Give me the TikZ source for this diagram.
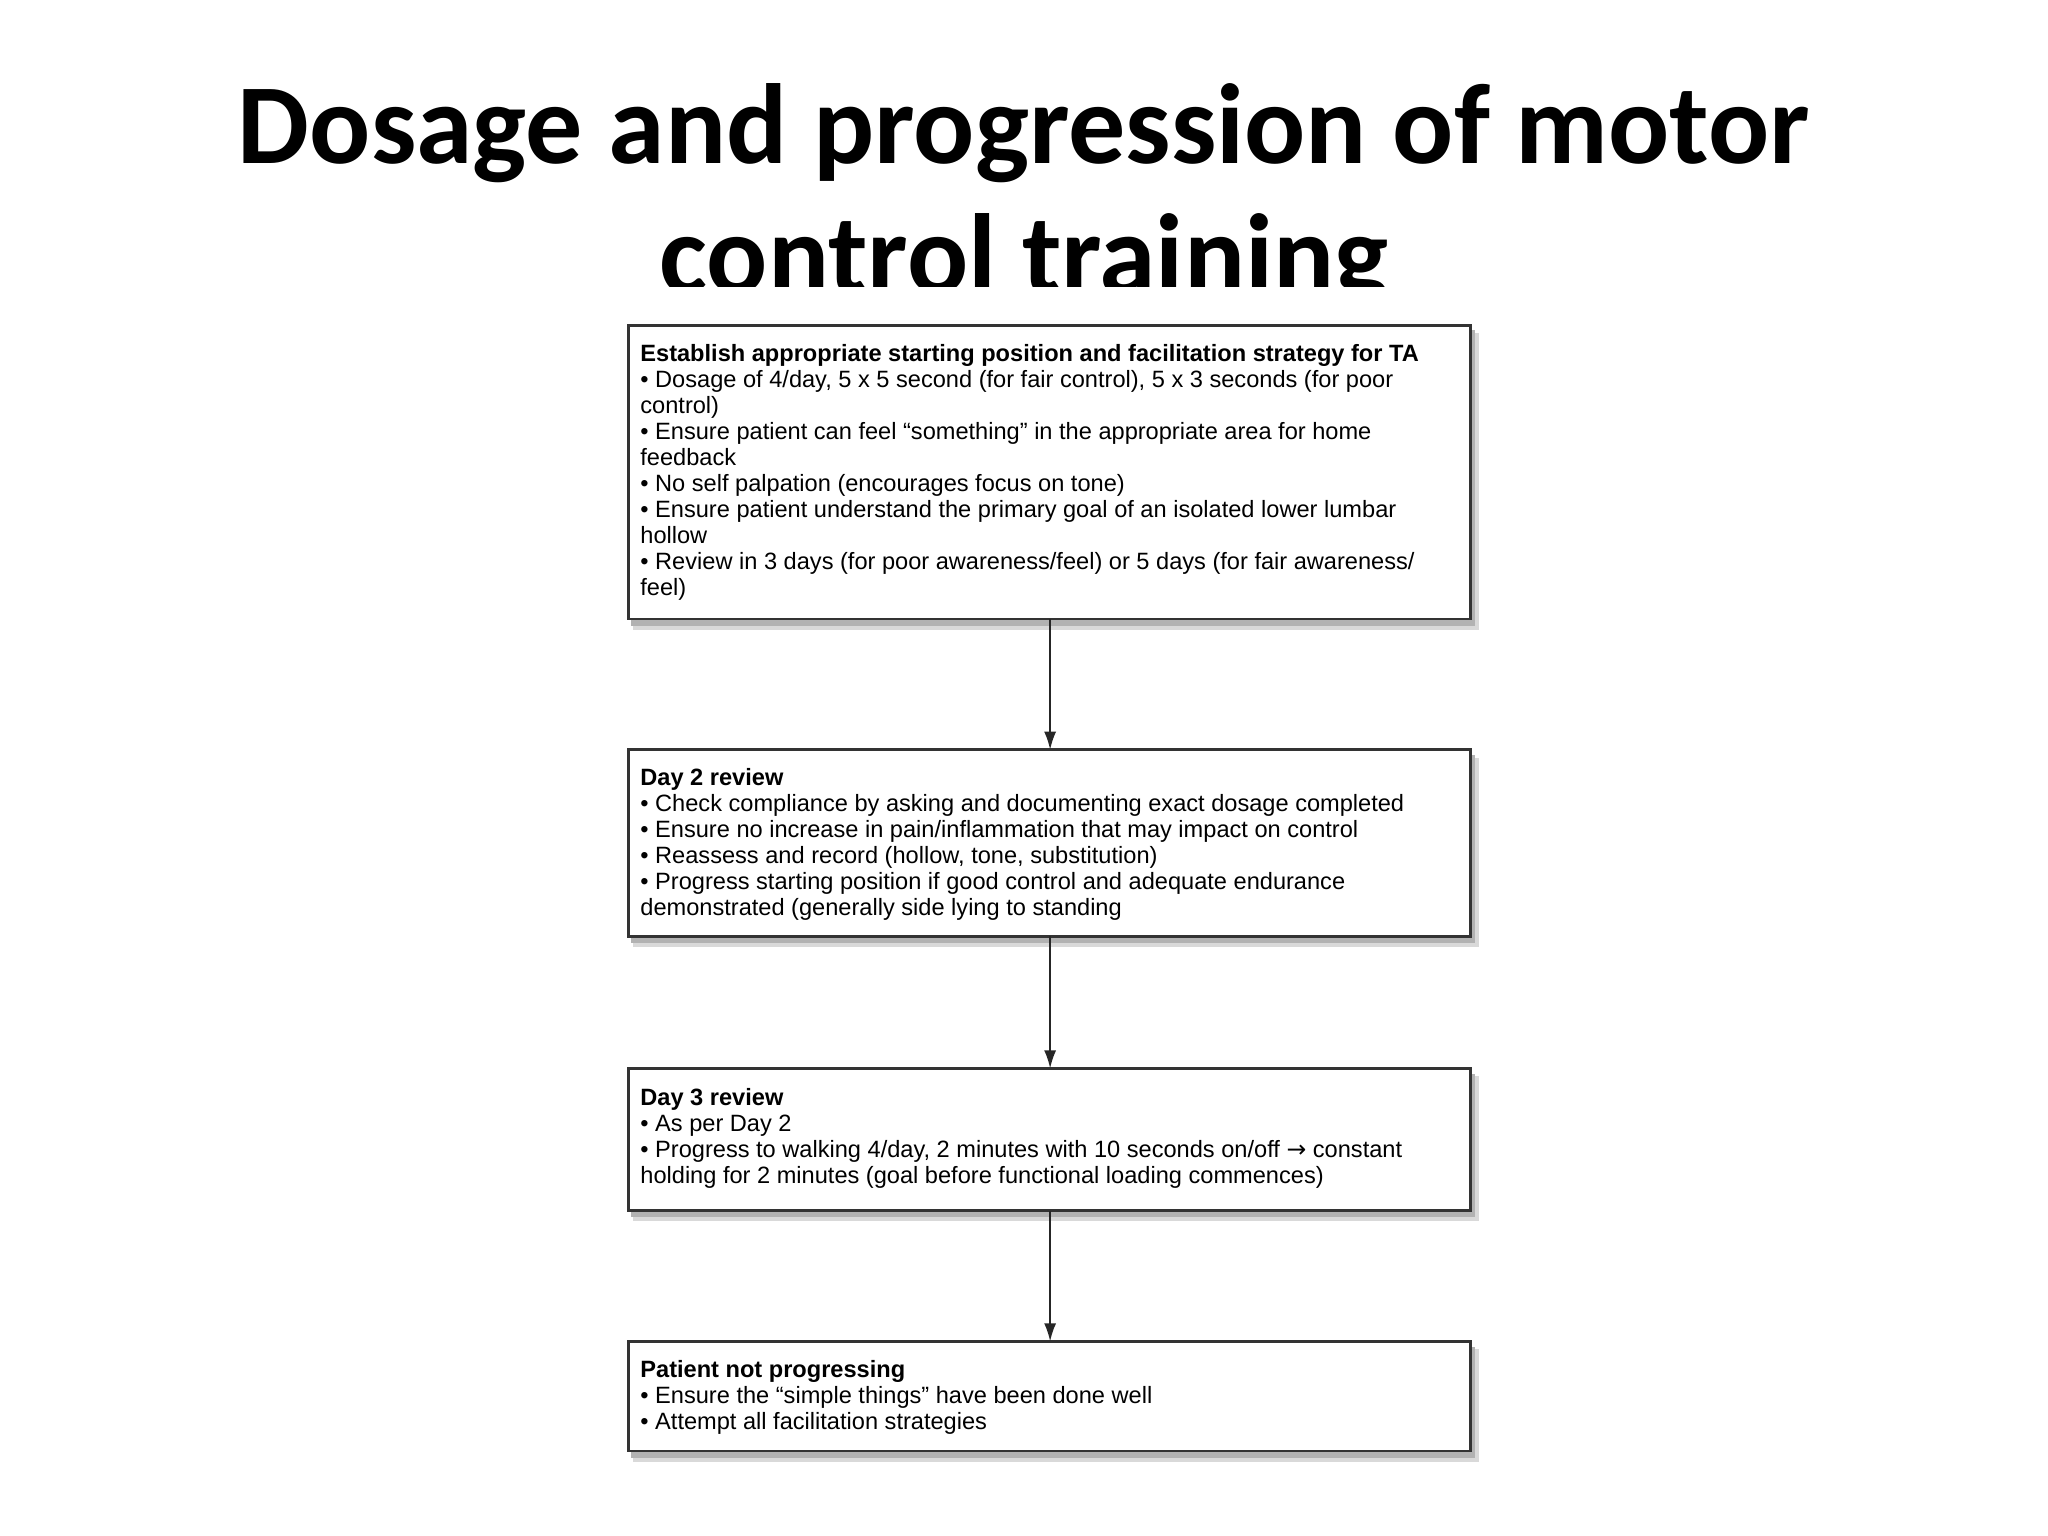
\documentclass[tikz,border=0pt]{standalone}
\usepackage{fontspec}
\usetikzlibrary{arrows.meta}
\setmainfont{Liberation Sans}
\newfontfamily\titlefont{Carlito}
\begin{document}
\begin{tikzpicture}[x=0.6531pt,y=-0.6531pt,
  box/.style={draw=black!80,line width=1.3pt,fill=white},
  txt/.style={anchor=north west,align=left,inner sep=0pt,font=\fontsize{11.8}{13.05}\selectfont},
  arr/.style={-{Latex[length=9pt,width=6pt]},line width=0.9pt,black!85}]
\fill[white] (0,0) rectangle (1568,1176);
\begin{scope}
\clip (0,0) rectangle (1568,219);
\node[font=\titlefont\bfseries\fontsize{57}{65}\selectfont,align=center] (title) at (784,152) {Dosage and progression of motor\\control training};
\end{scope}
% shadows
\foreach \a/\b in {249/474,574/717,818/927,1027/1111}{
  \fill[black!15] (485,\a+6) rectangle (1132,\b+8);
  \fill[black!30] (483,\a+4) rectangle (1129,\b+5);
}
\draw[box] (481,249) rectangle (1126,474);
\coordinate (b1) at (804,474);
\node[txt] (t1) at (490,263) {\textbf{Establish appropriate starting position and facilitation strategy for TA}\\
• Dosage of 4/day, 5 x 5 second (for fair control), 5 x 3 seconds (for poor\\control)\\
• Ensure patient can feel “something” in the appropriate area for home\\feedback\\
• No self palpation (encourages focus on tone)\\
• Ensure patient understand the primary goal of an isolated lower lumbar\\hollow\\
• Review in 3 days (for poor awareness/feel) or 5 days (for fair awareness/\\feel)};
\draw[box] (481,574) rectangle (1126,717);
\coordinate (b2t) at (804,574); \coordinate (b2b) at (804,717);
\node[txt] (t2) at (490,588) {\textbf{Day 2 review}\\
• Check compliance by asking and documenting exact dosage completed\\
• Ensure no increase in pain/inflammation that may impact on control\\
• Reassess and record (hollow, tone, substitution)\\
• Progress starting position if good control and adequate endurance\\demonstrated (generally side lying to standing};
\draw[box] (481,818) rectangle (1126,927);
\coordinate (b3t) at (804,818); \coordinate (b3b) at (804,927);
\node[txt] (t3) at (490,833) {\textbf{Day 3 review}\\
• As per Day 2\\
• Progress to walking 4/day, 2 minutes with 10 seconds on/off {\fontspec{DejaVu Sans}→} constant\\holding for 2 minutes (goal before functional loading commences)};
\draw[box] (481,1027) rectangle (1126,1111);
\coordinate (b4t) at (804,1027);
\node[txt] (t4) at (490,1041) {\textbf{Patient not progressing}\\
• Ensure the “simple things” have been done well\\
• Attempt all facilitation strategies};
\draw[arr] (b1) -- (b2t);
\draw[arr] (b2b) -- (b3t);
\draw[arr] (b3b) -- (b4t);
\end{tikzpicture}
\end{document}
